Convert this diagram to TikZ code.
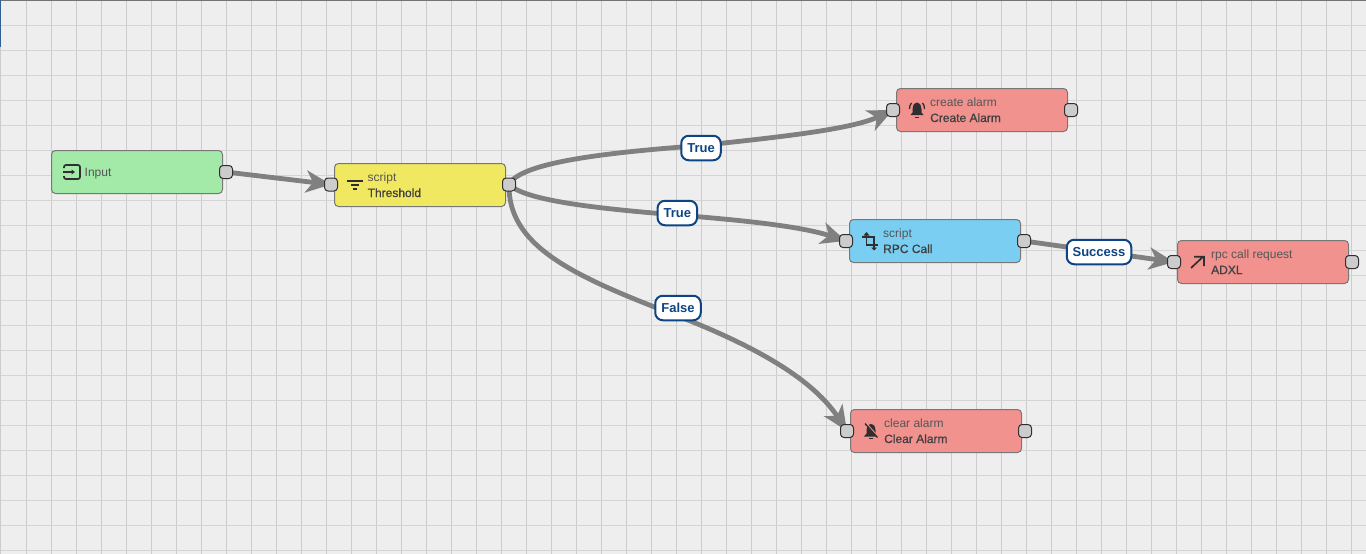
\documentclass[tikz,border=0pt]{standalone}
\usepackage{fontspec}
\setmainfont{Liberation Sans}
\newfontfamily\medfont[FakeBold=0.7]{Liberation Sans}
\usetikzlibrary{arrows.meta}
\definecolor{bgc}{HTML}{EEEEEE}
\definecolor{gridv}{HTML}{CCCCCC}
\definecolor{gridh}{HTML}{D4D4D4}
\definecolor{cgreen}{HTML}{A3EAA9}
\definecolor{cyellow}{HTML}{F1E861}
\definecolor{cred}{HTML}{F1928F}
\definecolor{cblue}{HTML}{79CEF1}
\definecolor{nbord}{HTML}{777777}
\definecolor{portc}{HTML}{CCCCCC}
\definecolor{edgec}{HTML}{808080}
\definecolor{lblue}{HTML}{0E4484}
\definecolor{subt}{HTML}{555555}
\definecolor{maint}{HTML}{404040}
\definecolor{icon}{HTML}{2F2F2F}
\tikzset{
  x=1pt,y=-1pt,
  rulenode/.style={draw=nbord,line width=1pt,rounded corners=4pt,minimum width=171pt,minimum height=43pt,inner sep=0pt},
  port/.style={draw=icon,fill=portc,line width=1pt,rounded corners=3.5pt,minimum width=13pt,minimum height=13pt,inner sep=0pt},
  edge/.style={draw=edgec,line width=4.8pt,-{Stealth[length=25pt,width=22pt,inset=7pt]}},
  elabel/.style={draw=lblue,fill=white,line width=2pt,rounded corners=7.5pt,text=lblue,font=\fontsize{13}{16}\selectfont\bfseries,inner sep=0pt,minimum height=24.5pt},
  subtext/.style={anchor=base west,text=subt,inner sep=0pt,font=\fontsize{12}{14}\selectfont},
  maintext/.style={anchor=base west,text=maint,inner sep=0pt,font=\fontsize{12}{14}\selectfont\medfont},
  ico/.style={draw=icon,line width=1.7pt,line cap=butt},
}
\begin{document}
\begin{tikzpicture}
\useasboundingbox (0,0) rectangle (1366,554);
\fill[bgc] (0,0) rectangle (1366,554);
% grid
\foreach \k in {1,...,54}{
  \pgfmathsetmacro{\gx}{1.5+25*\k}
  \draw[gridv,line width=1pt] (\gx,0) -- (\gx,554);
}
\foreach \k in {1,...,22}{
  \pgfmathsetmacro{\gy}{0.5+25*\k}
  \draw[gridh,line width=1pt] (0,\gy) -- (1366,\gy);
}
\fill[black!55] (0,0) rectangle (1366,1);
\fill[gridv] (0,47) rectangle (1.2,554);
\fill[lblue!85!white] (0,0) rectangle (1.4,47);
% rule nodes
\node[rulenode,fill=cgreen] (input) at (137,172) {};
\node[rulenode,fill=cyellow] (thresh) at (420,185) {};
\node[rulenode,fill=cred] (create) at (982,110) {};
\node[rulenode,fill=cblue] (rpc) at (935,241) {};
\node[rulenode,fill=cred] (adxl) at (1263,262) {};
\node[rulenode,fill=cred] (clear) at (936,431) {};
% ports
\coordinate (inputO) at (226,172);
\coordinate (threshI) at (331,184.5);
\coordinate (threshO) at (509,184.5);
\coordinate (createI) at (893,110);
\coordinate (createO) at (1071,110);
\coordinate (rpcI) at (846,241);
\coordinate (rpcO) at (1024,241);
\coordinate (adxlI) at (1174,262);
\coordinate (adxlO) at (1352,262);
\coordinate (clearI) at (847,431);
\coordinate (clearO) at (1025,431);
% points where the edges run under their labels
\coordinate (m1) at (701,145.5);
\coordinate (m2) at (677,215);
\coordinate (m3) at (674,314.5);
% edges
\draw[edge] (inputO) -- (threshI);
\draw[edge] (threshO) .. controls (520,163) and (600,153) .. (m1) .. controls (770,138) and (850,130) .. (createI);
\draw[edge] (threshO) .. controls (525,200) and (590,208) .. (m2) .. controls (740,220) and (800,226) .. (rpcI);
\draw[edge] (threshO) .. controls (508,245) and (570,275) .. (m3) .. controls (745,342) and (810,375) .. (clearI);
\draw[edge] (rpcO) -- (adxlI);
% port shapes
\foreach \p in {inputO,threshI,threshO,createI,createO,rpcI,rpcO,adxlI,adxlO,clearI,clearO}{
  \node[port] (port\p) at (\p) {};
}
% edge labels
\node[elabel,minimum width=39.5pt] (l1) at (701,148) {True};
\node[elabel,minimum width=39.5pt] (l2) at (677.3,213) {True};
\node[elabel,minimum width=45.5pt] (l3) at (678,308) {False};
\node[elabel,minimum width=64.5pt] (l4) at (1099,252) {Success};
% texts
\node[subtext] (t0) at (84.5,176) {Input};
\node[subtext] (t1) at (367.5,181) {script};
\node[maintext] (t2) at (367.5,197) {Threshold};
\node[subtext] (t3) at (930,106) {create alarm};
\node[maintext] (t4) at (930,122) {Create Alarm};
\node[subtext] (t5) at (883,237) {script};
\node[maintext] (t6) at (883,253) {RPC Call};
\node[subtext] (t7) at (1211,258) {rpc call request};
\node[maintext] (t8) at (1211,274) {ADXL};
\node[subtext] (t9) at (884,427) {clear alarm};
\node[maintext] (t10) at (884,443) {Clear Alarm};
% input icon
\draw[ico,rounded corners=2pt] (64,168) -- (64,165) -- (80,165) -- (80,179) -- (64,179) -- (64,176);
\draw[ico] (63,172) -- (72,172);
\fill[icon] (71.5,169.5) -- (75,172) -- (71.5,174.5) -- cycle;
% filter icon
\draw[ico,line width=2pt] (347.3,181) -- (362.7,181);
\draw[ico,line width=2pt] (350.7,185) -- (359.3,185);
\draw[ico,line width=2pt] (353.3,189) -- (356.7,189);
% bell icon
\fill[icon] (917,102.5) .. controls (920.5,103.5) and (921.5,106) .. (921.5,109) -- (921.5,112.5) -- (923.5,115) -- (910.5,115) -- (912.5,112.5) -- (912.5,109) .. controls (912.5,106) and (913.5,103.5) .. (917,102.5) -- cycle;
\fill[icon] (915,116.5) rectangle (919,118);
\draw[icon,line width=1.3pt] (911.5,103) .. controls (910,104.5) and (909.5,106.5) .. (909.5,109);
\draw[icon,line width=1.3pt] (922.5,103) .. controls (924,104.5) and (924.5,106.5) .. (924.5,109);
% crop icon
\draw[ico] (866.5,234.5) -- (866.5,245) -- (878,245) (861.7,237) -- (874,237) -- (874,248);
\fill[icon] (866.5,232) -- (863.5,235.5) -- (869.5,235.5) -- cycle;
\fill[icon] (874,250.5) -- (871,247.5) -- (877,247.5) -- cycle;
% arrow icon
\draw[ico] (1191,268) -- (1203,256.8) (1194,256.8) -- (1204,256.8) -- (1204,266);
% bell off icon
\fill[icon] (871,424) .. controls (874.5,424.5) and (875.5,427) .. (875.5,430) -- (875.5,433.5) -- (878,436.5) -- (864,436.5) -- (866.5,433.5) -- (866.5,430) .. controls (866.5,427) and (867.5,424.5) .. (871,424) -- cycle;
\fill[icon] (869,437.5) rectangle (873,439);
\draw[cred,line width=1.2pt] (866,423) -- (878.5,437);
\draw[icon,line width=1.3pt] (865,423.5) -- (877.5,437.5);
\end{tikzpicture}
\end{document}
